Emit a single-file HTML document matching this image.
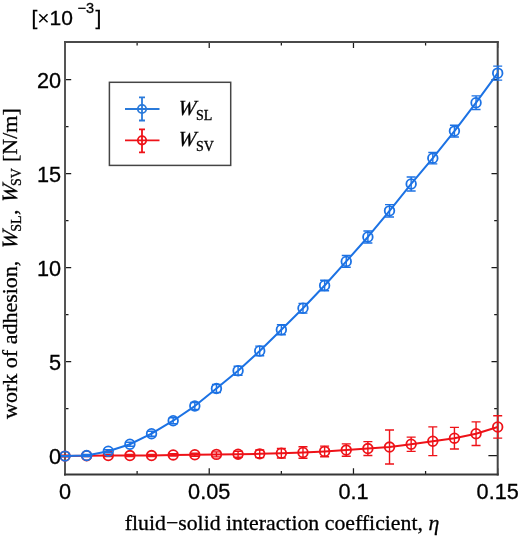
<!DOCTYPE html>
<html><head><meta charset="utf-8"><style>
html,body{margin:0;padding:0;background:#fff;}
svg{display:block;}
.sans{font-family:"Liberation Sans",Arial,sans-serif;}
text{stroke:#000;stroke-width:0.3px;}
.serif{font-family:"Liberation Serif","Times New Roman",serif;}
</style></head><body>
<svg width="520" height="537" viewBox="0 0 520 537">
<rect width="520" height="537" fill="#fff"/>
<path d="M65.00,474.5V468.3M65.00,41.9V48.1M209.23,474.5V468.3M209.23,41.9V48.1M353.47,474.5V468.3M353.47,41.9V48.1M497.70,474.5V468.3M497.70,41.9V48.1M137.12,474.5V471.0M137.12,41.9V45.4M281.35,474.5V471.0M281.35,41.9V45.4M425.58,474.5V471.0M425.58,41.9V45.4M65.0,455.69H71.2M497.7,455.69H488.4M65.0,361.65H71.2M497.7,361.65H491.5M65.0,267.60H71.2M497.7,267.60H491.5M65.0,173.56H71.2M497.7,173.56H491.5M65.0,79.52H71.2M497.7,79.52H491.5M65.0,408.67H68.5M497.7,408.67H494.2M65.0,314.63H68.5M497.7,314.63H494.2M65.0,220.58H68.5M497.7,220.58H494.2M65.0,126.54H68.5M497.7,126.54H494.2" stroke="#1a1a1a" stroke-width="1.25" fill="none"/>
<path d="M65.0,40.9V475.4" stroke="#555" stroke-width="2"/>
<path d="M64.0,41.9H498.7" stroke="#4a4a4a" stroke-width="2"/>
<path d="M497.7,40.9V475.4" stroke="#444" stroke-width="2"/>
<path d="M64.0,474.5H498.7" stroke="#363636" stroke-width="1.8"/>
<g>
<polyline points="65.00,456.09 86.64,455.72 108.27,455.53 129.91,455.53 151.54,455.53 173.18,454.96 194.81,454.77 216.44,454.40 238.08,454.21 259.72,453.83 281.35,453.27 302.98,452.52 324.62,451.39 346.25,450.07 367.89,448.57 389.52,447.06 411.16,444.24 432.80,441.23 454.43,438.22 476.06,433.71 497.70,426.94" fill="none" stroke="#ee1218" stroke-width="2.0" stroke-linejoin="round"/>
<path d="M65.00,455.29V456.89M60.50,455.29H69.50M60.50,456.89H69.50" stroke="#ee1218" stroke-width="1.4" fill="none"/>
<circle cx="65.00" cy="456.09" r="4.8" fill="none" stroke="#ee1218" stroke-width="1.8"/>
<path d="M86.64,454.92V456.52M82.14,454.92H91.14M82.14,456.52H91.14" stroke="#ee1218" stroke-width="1.4" fill="none"/>
<circle cx="86.64" cy="455.72" r="4.8" fill="none" stroke="#ee1218" stroke-width="1.8"/>
<path d="M108.27,454.53V456.53M103.77,454.53H112.77M103.77,456.53H112.77" stroke="#ee1218" stroke-width="1.4" fill="none"/>
<circle cx="108.27" cy="455.53" r="4.8" fill="none" stroke="#ee1218" stroke-width="1.8"/>
<path d="M129.91,454.53V456.53M125.41,454.53H134.41M125.41,456.53H134.41" stroke="#ee1218" stroke-width="1.4" fill="none"/>
<circle cx="129.91" cy="455.53" r="4.8" fill="none" stroke="#ee1218" stroke-width="1.8"/>
<path d="M151.54,454.53V456.53M147.04,454.53H156.04M147.04,456.53H156.04" stroke="#ee1218" stroke-width="1.4" fill="none"/>
<circle cx="151.54" cy="455.53" r="4.8" fill="none" stroke="#ee1218" stroke-width="1.8"/>
<path d="M173.18,453.76V456.16M168.68,453.76H177.68M168.68,456.16H177.68" stroke="#ee1218" stroke-width="1.4" fill="none"/>
<circle cx="173.18" cy="454.96" r="4.8" fill="none" stroke="#ee1218" stroke-width="1.8"/>
<path d="M194.81,453.27V456.27M190.31,453.27H199.31M190.31,456.27H199.31" stroke="#ee1218" stroke-width="1.4" fill="none"/>
<circle cx="194.81" cy="454.77" r="4.8" fill="none" stroke="#ee1218" stroke-width="1.8"/>
<path d="M216.44,451.90V456.90M211.94,451.90H220.94M211.94,456.90H220.94" stroke="#ee1218" stroke-width="1.4" fill="none"/>
<circle cx="216.44" cy="454.40" r="4.8" fill="none" stroke="#ee1218" stroke-width="1.8"/>
<path d="M238.08,451.21V457.21M233.58,451.21H242.58M233.58,457.21H242.58" stroke="#ee1218" stroke-width="1.4" fill="none"/>
<circle cx="238.08" cy="454.21" r="4.8" fill="none" stroke="#ee1218" stroke-width="1.8"/>
<path d="M259.72,450.03V457.63M255.22,450.03H264.22M255.22,457.63H264.22" stroke="#ee1218" stroke-width="1.4" fill="none"/>
<circle cx="259.72" cy="453.83" r="4.8" fill="none" stroke="#ee1218" stroke-width="1.8"/>
<path d="M281.35,448.57V457.97M276.85,448.57H285.85M276.85,457.97H285.85" stroke="#ee1218" stroke-width="1.4" fill="none"/>
<circle cx="281.35" cy="453.27" r="4.8" fill="none" stroke="#ee1218" stroke-width="1.8"/>
<path d="M302.98,446.72V458.32M298.48,446.72H307.48M298.48,458.32H307.48" stroke="#ee1218" stroke-width="1.4" fill="none"/>
<circle cx="302.98" cy="452.52" r="4.8" fill="none" stroke="#ee1218" stroke-width="1.8"/>
<path d="M324.62,446.09V456.69M320.12,446.09H329.12M320.12,456.69H329.12" stroke="#ee1218" stroke-width="1.4" fill="none"/>
<circle cx="324.62" cy="451.39" r="4.8" fill="none" stroke="#ee1218" stroke-width="1.8"/>
<path d="M346.25,443.87V456.27M341.75,443.87H350.75M341.75,456.27H350.75" stroke="#ee1218" stroke-width="1.4" fill="none"/>
<circle cx="346.25" cy="450.07" r="4.8" fill="none" stroke="#ee1218" stroke-width="1.8"/>
<path d="M367.89,441.67V455.47M363.39,441.67H372.39M363.39,455.47H372.39" stroke="#ee1218" stroke-width="1.4" fill="none"/>
<circle cx="367.89" cy="448.57" r="4.8" fill="none" stroke="#ee1218" stroke-width="1.8"/>
<path d="M389.52,430.06V464.06M385.02,430.06H394.02M385.02,464.06H394.02" stroke="#ee1218" stroke-width="1.4" fill="none"/>
<circle cx="389.52" cy="447.06" r="4.8" fill="none" stroke="#ee1218" stroke-width="1.8"/>
<path d="M411.16,437.14V451.34M406.66,437.14H415.66M406.66,451.34H415.66" stroke="#ee1218" stroke-width="1.4" fill="none"/>
<circle cx="411.16" cy="444.24" r="4.8" fill="none" stroke="#ee1218" stroke-width="1.8"/>
<path d="M432.80,426.83V455.63M428.30,426.83H437.30M428.30,455.63H437.30" stroke="#ee1218" stroke-width="1.4" fill="none"/>
<circle cx="432.80" cy="441.23" r="4.8" fill="none" stroke="#ee1218" stroke-width="1.8"/>
<path d="M454.43,427.42V449.02M449.93,427.42H458.93M449.93,449.02H458.93" stroke="#ee1218" stroke-width="1.4" fill="none"/>
<circle cx="454.43" cy="438.22" r="4.8" fill="none" stroke="#ee1218" stroke-width="1.8"/>
<path d="M476.06,421.91V445.51M471.56,421.91H480.56M471.56,445.51H480.56" stroke="#ee1218" stroke-width="1.4" fill="none"/>
<circle cx="476.06" cy="433.71" r="4.8" fill="none" stroke="#ee1218" stroke-width="1.8"/>
<path d="M497.70,415.74V438.14M493.20,415.74H502.20M493.20,438.14H502.20" stroke="#ee1218" stroke-width="1.4" fill="none"/>
<circle cx="497.70" cy="426.94" r="4.8" fill="none" stroke="#ee1218" stroke-width="1.8"/>
<polyline points="65.00,456.09 86.64,455.53 108.27,451.20 129.91,444.24 151.54,433.71 173.18,420.73 194.81,406.06 216.44,388.57 238.08,370.70 259.72,350.95 281.35,329.70 302.98,308.25 324.62,285.50 346.25,261.42 367.89,236.97 389.52,210.83 411.16,183.93 432.80,158.16 454.43,131.08 476.06,102.68 497.70,73.15" fill="none" stroke="#1c72e4" stroke-width="2.0" stroke-linejoin="round"/>
<path d="M65.00,455.59V456.59M60.50,455.59H69.50M60.50,456.59H69.50" stroke="#1c72e4" stroke-width="1.4" fill="none"/>
<circle cx="65.00" cy="456.09" r="4.8" fill="none" stroke="#1c72e4" stroke-width="1.8"/>
<path d="M86.64,454.53V456.53M82.14,454.53H91.14M82.14,456.53H91.14" stroke="#1c72e4" stroke-width="1.4" fill="none"/>
<circle cx="86.64" cy="455.53" r="4.8" fill="none" stroke="#1c72e4" stroke-width="1.8"/>
<path d="M108.27,449.70V452.70M103.77,449.70H112.77M103.77,452.70H112.77" stroke="#1c72e4" stroke-width="1.4" fill="none"/>
<circle cx="108.27" cy="451.20" r="4.8" fill="none" stroke="#1c72e4" stroke-width="1.8"/>
<path d="M129.91,442.24V446.24M125.41,442.24H134.41M125.41,446.24H134.41" stroke="#1c72e4" stroke-width="1.4" fill="none"/>
<circle cx="129.91" cy="444.24" r="4.8" fill="none" stroke="#1c72e4" stroke-width="1.8"/>
<path d="M151.54,431.21V436.21M147.04,431.21H156.04M147.04,436.21H156.04" stroke="#1c72e4" stroke-width="1.4" fill="none"/>
<circle cx="151.54" cy="433.71" r="4.8" fill="none" stroke="#1c72e4" stroke-width="1.8"/>
<path d="M173.18,417.73V423.73M168.68,417.73H177.68M168.68,423.73H177.68" stroke="#1c72e4" stroke-width="1.4" fill="none"/>
<circle cx="173.18" cy="420.73" r="4.8" fill="none" stroke="#1c72e4" stroke-width="1.8"/>
<path d="M194.81,402.56V409.56M190.31,402.56H199.31M190.31,409.56H199.31" stroke="#1c72e4" stroke-width="1.4" fill="none"/>
<circle cx="194.81" cy="406.06" r="4.8" fill="none" stroke="#1c72e4" stroke-width="1.8"/>
<path d="M216.44,384.57V392.57M211.94,384.57H220.94M211.94,392.57H220.94" stroke="#1c72e4" stroke-width="1.4" fill="none"/>
<circle cx="216.44" cy="388.57" r="4.8" fill="none" stroke="#1c72e4" stroke-width="1.8"/>
<path d="M238.08,366.20V375.20M233.58,366.20H242.58M233.58,375.20H242.58" stroke="#1c72e4" stroke-width="1.4" fill="none"/>
<circle cx="238.08" cy="370.70" r="4.8" fill="none" stroke="#1c72e4" stroke-width="1.8"/>
<path d="M259.72,346.15V355.75M255.22,346.15H264.22M255.22,355.75H264.22" stroke="#1c72e4" stroke-width="1.4" fill="none"/>
<circle cx="259.72" cy="350.95" r="4.8" fill="none" stroke="#1c72e4" stroke-width="1.8"/>
<path d="M281.35,324.70V334.70M276.85,324.70H285.85M276.85,334.70H285.85" stroke="#1c72e4" stroke-width="1.4" fill="none"/>
<circle cx="281.35" cy="329.70" r="4.8" fill="none" stroke="#1c72e4" stroke-width="1.8"/>
<path d="M302.98,303.35V313.15M298.48,303.35H307.48M298.48,313.15H307.48" stroke="#1c72e4" stroke-width="1.4" fill="none"/>
<circle cx="302.98" cy="308.25" r="4.8" fill="none" stroke="#1c72e4" stroke-width="1.8"/>
<path d="M324.62,280.20V290.80M320.12,280.20H329.12M320.12,290.80H329.12" stroke="#1c72e4" stroke-width="1.4" fill="none"/>
<circle cx="324.62" cy="285.50" r="4.8" fill="none" stroke="#1c72e4" stroke-width="1.8"/>
<path d="M346.25,255.52V267.32M341.75,255.52H350.75M341.75,267.32H350.75" stroke="#1c72e4" stroke-width="1.4" fill="none"/>
<circle cx="346.25" cy="261.42" r="4.8" fill="none" stroke="#1c72e4" stroke-width="1.8"/>
<path d="M367.89,230.97V242.97M363.39,230.97H372.39M363.39,242.97H372.39" stroke="#1c72e4" stroke-width="1.4" fill="none"/>
<circle cx="367.89" cy="236.97" r="4.8" fill="none" stroke="#1c72e4" stroke-width="1.8"/>
<path d="M389.52,204.63V217.03M385.02,204.63H394.02M385.02,217.03H394.02" stroke="#1c72e4" stroke-width="1.4" fill="none"/>
<circle cx="389.52" cy="210.83" r="4.8" fill="none" stroke="#1c72e4" stroke-width="1.8"/>
<path d="M411.16,176.93V190.93M406.66,176.93H415.66M406.66,190.93H415.66" stroke="#1c72e4" stroke-width="1.4" fill="none"/>
<circle cx="411.16" cy="183.93" r="4.8" fill="none" stroke="#1c72e4" stroke-width="1.8"/>
<path d="M432.80,152.46V163.86M428.30,152.46H437.30M428.30,163.86H437.30" stroke="#1c72e4" stroke-width="1.4" fill="none"/>
<circle cx="432.80" cy="158.16" r="4.8" fill="none" stroke="#1c72e4" stroke-width="1.8"/>
<path d="M454.43,125.18V136.98M449.93,125.18H458.93M449.93,136.98H458.93" stroke="#1c72e4" stroke-width="1.4" fill="none"/>
<circle cx="454.43" cy="131.08" r="4.8" fill="none" stroke="#1c72e4" stroke-width="1.8"/>
<path d="M476.06,95.88V109.48M471.56,95.88H480.56M471.56,109.48H480.56" stroke="#1c72e4" stroke-width="1.4" fill="none"/>
<circle cx="476.06" cy="102.68" r="4.8" fill="none" stroke="#1c72e4" stroke-width="1.8"/>
<path d="M497.70,66.15V80.15M493.20,66.15H502.20M493.20,80.15H502.20" stroke="#1c72e4" stroke-width="1.4" fill="none"/>
<circle cx="497.70" cy="73.15" r="4.8" fill="none" stroke="#1c72e4" stroke-width="1.8"/>
</g>
<g class="sans" font-size="21.7" fill="#000">
<text x="65.00" y="499" text-anchor="middle">0</text>
<text x="209.23" y="499" text-anchor="middle">0.05</text>
<text x="353.47" y="499" text-anchor="middle">0.1</text>
<text x="497.70" y="499" text-anchor="middle">0.15</text>
<text x="61" y="464.19" text-anchor="end">0</text>
<text x="61" y="370.15" text-anchor="end">5</text>
<text x="61" y="276.10" text-anchor="end">10</text>
<text x="61" y="182.06" text-anchor="end">15</text>
<text x="61" y="88.02" text-anchor="end">20</text>
</g>
<g class="sans" fill="#000">
<text x="31.4" y="24.7" font-size="21">[<tspan style="stroke-width:0">×</tspan>10</text>
<text x="77.6" y="12.9" font-size="14.5">−3</text>
<text x="95.6" y="24.7" font-size="21">]</text>
</g>
<!-- legend -->
<rect x="109.4" y="82.3" width="121.3" height="83.1" fill="#fff" stroke="#454545" stroke-width="1.5"/>
<g stroke-width="1.8" fill="none">
<path d="M125,109H159.5M142,97.3V120.5M139,97.3H145M139,120.5H145" stroke="#2a7ada"/>
<circle cx="142" cy="109" r="4.2" stroke="#2a7ada"/>
<path d="M125,140.3H159.5M142,129.4V152.4M139,129.4H145M139,152.4H145" stroke="#ee1218"/>
<circle cx="142" cy="140.3" r="4.2" stroke="#ee1218"/>
</g>
<g class="serif" fill="#000">
<text transform="translate(177.4,114.8) skewX(-6)" font-size="21.5" font-style="italic">W</text><text x="195.9" y="119.7" font-size="14">SL</text>
<text transform="translate(177.4,145.8) skewX(-6)" font-size="21.5" font-style="italic">W</text><text x="195.9" y="150.7" font-size="14">SV</text>
</g>
<g class="serif" fill="#000" font-size="22">
<text x="282" y="530" font-size="21.8" text-anchor="middle">fluid−solid interaction coefficient, <tspan font-style="italic">η</tspan></text>
<g transform="translate(16.8,0) rotate(-90)">
<text x="-418.9">work of adhesion,</text>
<text transform="translate(-249.5,0) skewX(-6)" font-style="italic">W</text>
<text x="-231.8" y="4.5" font-size="14">SL</text>
<text x="-215">,</text>
<text transform="translate(-203.3,0) skewX(-6)" font-style="italic">W</text>
<text x="-186" y="4.5" font-size="14">SV</text>
<text x="-162">[N/m]</text>
</g>
</g>
</svg>
</body></html>
